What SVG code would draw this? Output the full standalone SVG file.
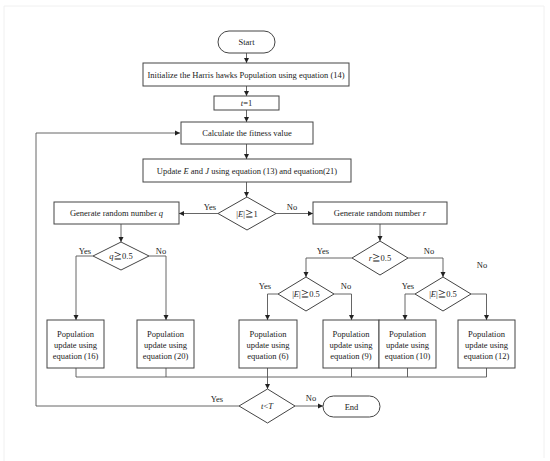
<svg xmlns="http://www.w3.org/2000/svg" width="550" height="461" viewBox="0 0 550 461">
<style>
text{font-family:"Liberation Serif","Times New Roman","Noto Sans CJK SC",serif;font-size:8.5px;fill:#222;text-anchor:middle}
.b{fill:#fff;stroke:#444;stroke-width:1}
.c{fill:none;stroke:#555;stroke-width:0.9}
.i{font-style:italic}
</style>
<defs>
<marker id="a" markerWidth="6" markerHeight="6" refX="5" refY="3" orient="auto" markerUnits="userSpaceOnUse">
<path d="M0,0.5 L5,3 L0,5.5 Z" fill="#222"/>
</marker>
</defs>
<rect width="550" height="461" fill="#fff"/>
<path d="M4,461 V6 H544 V458" fill="none" stroke="#f0f0f0" stroke-width="1"/>
<g id="connectors">
<path class="c" d="M246.5,53 V63" marker-end="url(#a)"/>
<path class="c" d="M246.5,86 V96" marker-end="url(#a)"/>
<path class="c" d="M246.5,110 V122" marker-end="url(#a)"/>
<path class="c" d="M246.5,144 V159" marker-end="url(#a)"/>
<path class="c" d="M246.5,182 V197" marker-end="url(#a)"/>
<path class="c" d="M218,213.5 H179" marker-end="url(#a)"/>
<path class="c" d="M276,213.5 H313" marker-end="url(#a)"/>
<path class="c" d="M121,224 V242" marker-end="url(#a)"/>
<path class="c" d="M93,256 H76 V320" marker-end="url(#a)"/>
<path class="c" d="M149,256 H166 V320" marker-end="url(#a)"/>
<path class="c" d="M380,224 V241" marker-end="url(#a)"/>
<path class="c" d="M352,258 H306 V277" marker-end="url(#a)"/>
<path class="c" d="M408,258 H443 V277" marker-end="url(#a)"/>
<path class="c" d="M278,294 H267.5 V320" marker-end="url(#a)"/>
<path class="c" d="M334,294 H351.5 V320" marker-end="url(#a)"/>
<path class="c" d="M415,294 H405 V320" marker-end="url(#a)"/>
<path class="c" d="M471,294 H486.5 V320" marker-end="url(#a)"/>
<path class="c" d="M76,368 V377 H486.5 V368 M166,368 V377 M267.5,368 V377 M351.5,368 V377 M407.5,368 V377"/>
<path class="c" d="M267.5,377 V389" marker-end="url(#a)"/>
<path class="c" d="M239,406 H36 V133 H180" marker-end="url(#a)"/>
<path class="c" d="M295,406 H323" marker-end="url(#a)"/>
</g>
<g id="labels">
<text x="210" y="210">Yes</text>
<text x="292" y="210">No</text>
<text x="85" y="254">Yes</text>
<text x="161" y="254">No</text>
<text x="323" y="254">Yes</text>
<text x="429" y="254">No</text>
<text x="482" y="268">No</text>
<text x="265" y="289">Yes</text>
<text x="346" y="289">No</text>
<text x="408" y="289">Yes</text>
<text x="217" y="402">Yes</text>
<text x="311" y="401">No</text>
</g>
<g id="start"><rect class="b" x="218" y="31" width="57" height="22" rx="11"/><text x="246.5" y="45">Start</text></g>
<g id="init"><rect class="b" x="143" y="63" width="206" height="23"/><text x="246" y="77.5">Initialize the Harris hawks Population using equation (14)</text></g>
<g id="t1"><rect class="b" x="214" y="96" width="65" height="14"/><text x="246.5" y="106"><tspan class="i">t</tspan>=1</text></g>
<g id="calc"><rect class="b" x="181" y="122" width="132" height="22"/><text x="247" y="136">Calculate the fitness value</text></g>
<g id="update"><rect class="b" x="143" y="159" width="208" height="23"/><text x="247" y="173.5">Update <tspan class="i">E</tspan> and <tspan class="i">J</tspan> using equation (13) and equation(21)</text></g>
<g id="d1"><path class="b" d="M247,197 L276,213.5 L247,230 L218,213.5 Z"/><text x="247" y="216.5">|<tspan class="i">E</tspan>|≧1</text></g>
<g id="genq"><rect class="b" x="54" y="202" width="125" height="22"/><text x="116.5" y="216">Generate random number <tspan class="i">q</tspan></text></g>
<g id="genr"><rect class="b" x="313" y="202" width="134" height="22"/><text x="380" y="216">Generate random number <tspan class="i">r</tspan></text></g>
<g id="dq"><path class="b" d="M121,242 L149,256 L121,270 L93,256 Z"/><text x="121" y="259"><tspan class="i">q</tspan>≧0.5</text></g>
<g id="dr"><path class="b" d="M380,241 L408,258 L380,275 L352,258 Z"/><text x="380" y="261"><tspan class="i">r</tspan>≧0.5</text></g>
<g id="de1"><path class="b" d="M306,277 L334,294 L306,311 L278,294 Z"/><text x="306" y="297">|<tspan class="i">E</tspan>|≧0.5</text></g>
<g id="de2"><path class="b" d="M443,277 L471,294 L443,311 L415,294 Z"/><text x="443" y="297">|<tspan class="i">E</tspan>|≧0.5</text></g>
<g id="p16"><rect class="b" x="47" y="320" width="57" height="48"/><text x="75.5" y="337">Population</text><text x="75.5" y="348">update using</text><text x="75.5" y="359">equation (16)</text></g>
<g id="p20"><rect class="b" x="137" y="320" width="57" height="48"/><text x="165.5" y="337">Population</text><text x="165.5" y="348">update using</text><text x="165.5" y="359">equation (20)</text></g>
<g id="p6"><rect class="b" x="239" y="320" width="58" height="48"/><text x="268" y="337">Population</text><text x="268" y="348">update using</text><text x="268" y="359">equation (6)</text></g>
<g id="p9"><rect class="b" x="323" y="320" width="56" height="48"/><text x="351" y="337">Population</text><text x="351" y="348">update using</text><text x="351" y="359">equation (9)</text></g>
<g id="p10"><rect class="b" x="379" y="320" width="57" height="48"/><text x="407.5" y="337">Population</text><text x="407.5" y="348">update using</text><text x="407.5" y="359">equation (10)</text></g>
<g id="p12"><rect class="b" x="458" y="320" width="57" height="48"/><text x="486.5" y="337">Population</text><text x="486.5" y="348">update using</text><text x="486.5" y="359">equation (12)</text></g>
<g id="dt"><path class="b" d="M267.5,389 L295,406 L267.5,423 L239,406 Z"/><text x="267" y="409"><tspan class="i">t</tspan>&lt;<tspan class="i">T</tspan></text></g>
<g id="end"><rect class="b" x="323" y="396" width="57" height="21" rx="10.5"/><text x="351.5" y="409.5">End</text></g>
</svg>
